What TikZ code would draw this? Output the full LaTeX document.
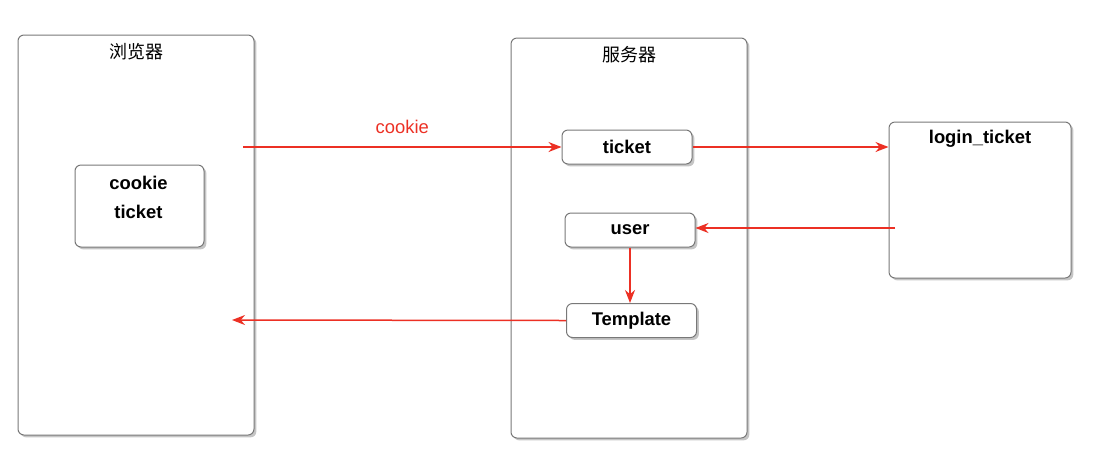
\documentclass[tikz,border=0pt]{standalone}
\usepackage{fontspec}
\setmainfont{Liberation Sans}
\newfontfamily\cjk{Noto Sans CJK SC}
\usetikzlibrary{shadows,arrows.meta}
\definecolor{flowred}{RGB}{236,48,36}
\definecolor{framegray}{RGB}{120,120,120}

\begin{document}
\begin{tikzpicture}[x=0.5pt,y=-0.5pt]
\tikzset{
  every node/.style={font=\bfseries\fontsize{9.2}{10}\selectfont},
  box/.style={draw=framegray,line width=0.5pt,fill=white,rounded corners=3pt,
    drop shadow={shadow xshift=1.2pt,shadow yshift=-1.2pt,fill=black!45},inner sep=0pt},
  frame/.style={box,minimum width=118pt,minimum height=200pt},
  item/.style={box,minimum width=65pt,minimum height=17pt},
  title/.style={font=\cjk\fontsize{9}{10}\selectfont},
  flow/.style={-{Stealth[length=6.5pt,width=5pt]},draw=flowred,line width=0.75pt}
}
\useasboundingbox (0,0) rectangle (1097,462);

%FRAMES
\node[frame] (BROWSER) at (136,235) {};
\node[title] (BROWSERT) at (136,52) {浏览器};
\node[frame] (SERVER) at (629,238) {};
\node[title] (SERVERT) at (629,55) {服务器};
\node[box,minimum width=91pt,minimum height=78pt] (LOGIN) at (980,200) {};
\node (LOGINT) at (980,139) {login\_ticket};

%BROWSER STORE
\node[box,minimum width=64.5pt,minimum height=41pt] (STORE) at (139.5,206) {};
\node (COOKIE) at (138.5,183) {cookie};
\node (STICKET) at (138.5,212) {ticket};

%SERVER ITEMS
\node[item] (TICKET) at (627,147) {ticket};
\node[item] (USER) at (630,230) {user};
\node[item] (TEMPLATE) at (631.5,320.5) {Template};

%PATHS
\coordinate (CSTART) at (243,147);
\coordinate (LSTART) at (895,228);
\coordinate (BEND) at (232,320);
\draw[flow] (CSTART) -- node[above=3pt,text=flowred,font=\fontsize{9.2}{10}\selectfont] (CLABEL) {cookie} (TICKET.west);
\draw[flow] (TICKET.east) -- (LOGIN.west |- TICKET.east);
\draw[flow] (LSTART) -- (USER.east |- LSTART);
\draw[flow] (USER.south) -- (USER.south |- TEMPLATE.north);
\draw[flow] (TEMPLATE.west) -- (BEND);

\end{tikzpicture}
\end{document}
